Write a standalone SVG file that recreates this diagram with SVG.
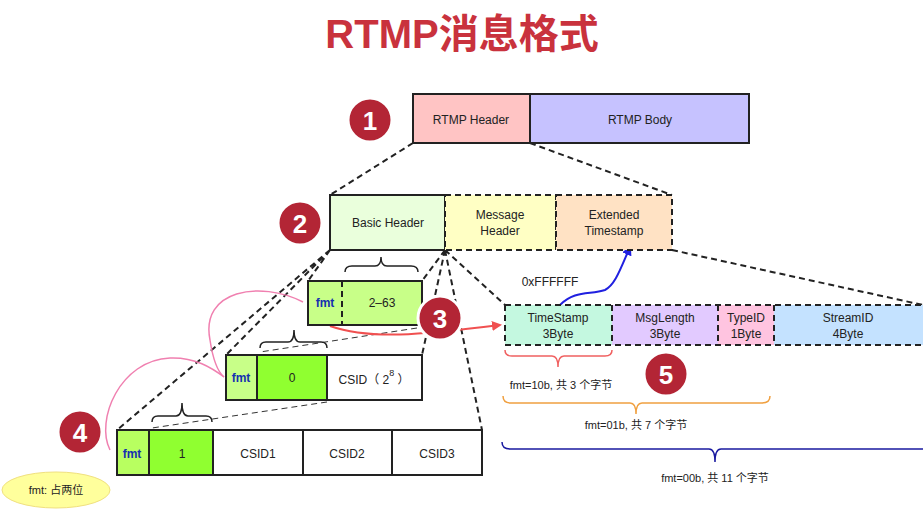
<svg xmlns="http://www.w3.org/2000/svg" width="923" height="513" viewBox="0 0 923 513">
<style>
text{font-family:"Liberation Sans",Arial,"Noto Sans CJK SC",sans-serif;font-size:12px;fill:#222;text-anchor:middle}
.b{stroke:#222;stroke-width:2}
.d{stroke:#222;stroke-width:2;stroke-dasharray:6,4;fill:none}
.t{stroke:#333;stroke-width:1;stroke-dasharray:6,4;fill:none}
.br{fill:none;stroke:#222;stroke-width:1.5}
.num{font-size:26px;font-weight:bold;fill:#fff}
text.fmt{fill:#1530b0;font-weight:bold}
</style>
<defs>
<marker id="ar" markerWidth="10" markerHeight="10" refX="8" refY="5" orient="auto" markerUnits="userSpaceOnUse"><path d="M0,0 L10,5 L0,10 z" fill="#f05050"/></marker>
<marker id="ab" markerWidth="10" markerHeight="10" refX="8" refY="5" orient="auto" markerUnits="userSpaceOnUse"><path d="M0,0 L10,5 L0,10 z" fill="#2020e0"/></marker>
<g id="badge"><circle r="22" fill="#b32535" stroke="#fff" stroke-width="3"/></g>
</defs>
<rect width="923" height="513" fill="#fff"/>
<text x="462" y="48" style="font-size:40px;font-weight:bold;fill:#c9323d">RTMP消息格式</text>

<g id="connectors">
<path class="d" d="M413,143 L330,195 M530,143 L672,195"/>
<path class="d" d="M330,250 L308,281 M330,250 L226,355 M330,250 L117,430 M445,250 L422,281 M445,250 L422,355 M445,250 L482,430 M445,250 L505,305 M672,250 L923,305"/>
<path class="t" d="M417,328 L260,352 M327,402 L152,428"/>
<path d="M560,305 C575,290 590,295 605,290 C615,285 620,270 630,247" fill="none" stroke="#2020e0" stroke-width="2" marker-end="url(#ab)"/>
<path d="M330,326 C370,340 420,335 500,325" fill="none" stroke="#f05050" stroke-width="2" marker-end="url(#ar)"/>
<path d="M303,302 C260,280 200,290 210,340 C213,360 218,372 224,377" fill="none" stroke="#f080b0" stroke-width="1.5"/>
<path d="M110,450 C95,420 120,360 170,358 C195,357 212,368 224,377" fill="none" stroke="#f080b0" stroke-width="1.5"/>
<path class="br" d="M345,272 Q345,266 352,266 L375,266 Q381,266 381,257 Q381,266 387,266 L411,266 Q418,266 418,272"/>
<path class="br" d="M260,348 Q260,342 266,342 L288,342 Q294,342 294,330 Q294,342 300,342 L321,342 Q327,342 327,348"/>
<path class="br" d="M152,422 Q152,416 158,416 L176,416 Q182,416 182,403 Q182,416 188,416 L206,416 Q212,416 212,422"/>
<path fill="none" stroke="#f06060" stroke-width="1.5" d="M505,350 Q505,356 512,356 L552,356 Q558,356 558,367 Q558,356 564,356 L605,356 Q612,356 612,350"/>
<path fill="none" stroke="#f0a040" stroke-width="1.5" d="M503,396 Q503,403 511,403 L630,403 Q636,403 636,414 Q636,403 642,403 L762,403 Q770,403 770,396"/>
<path fill="none" stroke="#1a1aa0" stroke-width="1.5" d="M502,442 Q502,449 510,449 L709,449 Q715,449 715,462 Q715,449 721,449 L923,449"/>
</g>

<g id="rtmp-header"><rect x="413" y="94" width="117" height="49" fill="#ffc4c4" class="b"/><text x="471" y="124">RTMP Header</text></g>
<g id="rtmp-body"><rect x="530" y="94" width="219" height="49" fill="#c6c2ff" class="b"/><text x="640" y="124">RTMP Body</text></g>

<g id="basic-header"><rect x="330" y="195" width="115" height="55" fill="#eaffdc" class="b"/><text x="388" y="227">Basic Header</text></g>
<g id="message-header"><rect x="445" y="195" width="111" height="55" class="d" style="fill:#ffffc4"/><text x="500" y="219">Message</text><text x="500" y="235">Header</text></g>
<g id="extended-timestamp"><rect x="556" y="195" width="116" height="55" class="d" style="fill:#ffe2c4"/><text x="614" y="219">Extended</text><text x="614" y="235">Timestamp</text></g>

<g id="bh1"><rect x="308" y="281" width="114" height="44" fill="#c8ff88" class="b"/><line x1="342" y1="281" x2="342" y2="325" class="d"/><text x="325" y="307" class="fmt">fmt</text><text x="382" y="307">2–63</text></g>
<g id="bh2"><rect x="226" y="355" width="101" height="45" fill="#90ff30" class="b"/><rect x="226" y="355" width="31" height="45" fill="#c8ff88" class="b"/><line x1="257" y1="355" x2="257" y2="400" class="d"/><rect x="327" y="355" width="95" height="45" fill="#fff" class="b"/><text x="241" y="382" class="fmt">fmt</text><text x="292" y="382">0</text><text x="374" y="384">CSID（ 2<tspan dy="-8" font-size="9">8</tspan><tspan dy="8"> ）</tspan></text></g>
<g id="bh3"><rect x="117" y="430" width="96" height="45" fill="#90ff30" class="b"/><rect x="117" y="430" width="32" height="45" fill="#b8ff60" class="b"/><line x1="149" y1="430" x2="149" y2="475" class="d"/><text x="132" y="458" class="fmt">fmt</text><text x="182" y="458">1</text>
<rect x="213" y="430" width="90" height="45" fill="#fff" class="b"/><text x="258" y="458">CSID1</text>
<rect x="303" y="430" width="89" height="45" fill="#fff" class="b"/><text x="347" y="458">CSID2</text>
<rect x="392" y="430" width="90" height="45" fill="#fff" class="b"/><text x="437" y="458">CSID3</text></g>

<g id="msg-fields">
<rect x="505" y="305" width="107" height="40" fill="#c4f8e0"/><rect x="612" y="305" width="106" height="40" fill="#e2caff"/><rect x="718" y="305" width="56" height="40" fill="#ffc4e0"/><rect x="774" y="305" width="149" height="40" fill="#c4e2ff"/>
<path class="d" d="M505,305 H923 M505,345 H923 M505,305 V345 M612,305 V345 M718,305 V345 M774,305 V345"/>
<text x="558" y="322">TimeStamp</text><text x="558" y="338">3Byte</text>
<text x="665" y="322">MsgLength</text><text x="665" y="338">3Byte</text>
<text x="746" y="322">TypeID</text><text x="746" y="338">1Byte</text>
<text x="848" y="322">StreamID</text><text x="848" y="338">4Byte</text>
</g>
<text x="550" y="286">0xFFFFFF</text>
<text x="561" y="389" style="font-size:11px">fmt=10b, 共 3 个字节</text>
<text x="636" y="429" style="font-size:11px">fmt=01b, 共 7 个字节</text>
<text x="715" y="482" style="font-size:11px">fmt=00b, 共 11 个字节</text>

<g id="note"><ellipse cx="56" cy="490" rx="54" ry="18" fill="#ffff9c" stroke="#f0e080"/><text x="56" y="494" style="font-size:11px">fmt: 占两位</text></g>

<g id="b1"><use href="#badge" x="370" y="120"/><text x="370" y="130" class="num">1</text></g>
<g id="b2"><use href="#badge" x="300" y="223"/><text x="300" y="233" class="num">2</text></g>
<g id="b3"><use href="#badge" x="440" y="318"/><text x="440" y="328" class="num">3</text></g>
<g id="b4"><use href="#badge" x="80" y="432"/><text x="80" y="442" class="num">4</text></g>
<g id="b5"><use href="#badge" x="666" y="374"/><text x="666" y="384" class="num">5</text></g>
</svg>
